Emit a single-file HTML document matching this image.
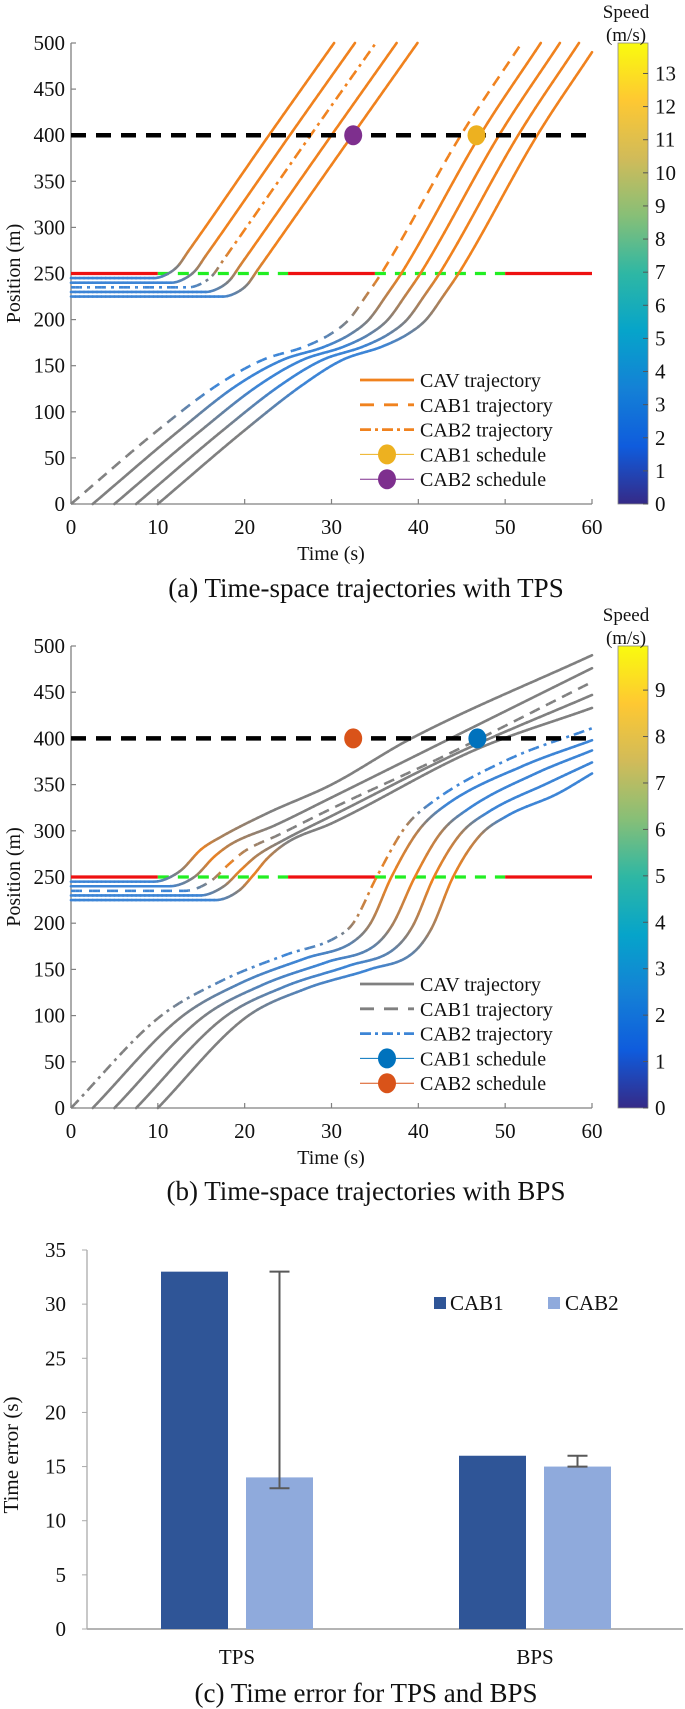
<!DOCTYPE html>
<html><head><meta charset="utf-8"><style>
html,body{margin:0;padding:0;background:#fff;}
svg{display:block;font-family:"Liberation Serif",serif;}
svg text{font-family:"Liberation Serif",serif;}
</style></head><body>
<svg id="fig" width="685" height="1709" viewBox="0 0 685 1709" xmlns="http://www.w3.org/2000/svg" font-family="Liberation Serif, serif">
<defs>
<linearGradient id="parula" x1="0" y1="1" x2="0" y2="0">
<stop offset="0" stop-color="#352A87"/><stop offset="0.125" stop-color="#0F5CDD"/><stop offset="0.25" stop-color="#1481D6"/><stop offset="0.375" stop-color="#06A4CA"/><stop offset="0.5" stop-color="#2EB7A4"/><stop offset="0.625" stop-color="#87BF77"/><stop offset="0.75" stop-color="#D1BB59"/><stop offset="0.875" stop-color="#FEC832"/><stop offset="1" stop-color="#F9FB0E"/>
</linearGradient>
</defs>
</svg>
<script>
// ---------- DATA: panel (a) TPS, points are [time s, position m, speed band 0=low 1=mid 2=high]
const tpsQueue1=[[0,245,0],[9.5,245,0],[11,249,0.5],[12.3,258,1],[13.5,274,1.7],[15,294,2],[22.8,400,2],[30.3,500,2]];
const tpsQueue2=[[0,240,0],[11.5,240,0],[13,244,0.5],[14.3,253,1],[15.5,269,1.7],[17,289,2],[25.2,400,2],[32.7,500,2]];
const tpsQueue3=[[0,235,0],[13.5,235,0],[15,239,0.5],[16.3,248,1],[17.5,264,1.7],[19,284,2],[27.6,400,2],[35.1,500,2]];
const tpsQueue4=[[0,230,0],[15.5,230,0],[17,234,0.5],[18.3,243,1],[19.5,259,1.7],[21,279,2],[30,400,2],[37.5,500,2]];
const tpsQueue5=[[0,225,0],[17.5,225,0],[19,229,0.5],[20.3,238,1],[21.5,254,1.7],[23,274,2],[32.4,400,2],[39.9,500,2]];
const tpsFlow1=[[0,0,1],[10,80,1],[16.7,128,0],[22,156,0],[27,171,0],[30,185,0.5],[32,200,1],[34,226,1.5],[36,254,2],[44.9,400,2],[51.9,500,2]];
const tpsFlow2=[[2.5,0,1],[12.5,80,1],[19,128,0],[24.3,156,0],[29.3,171,0],[32.3,185,0.5],[34.3,200,1],[36.3,226,1.5],[38.3,254,2],[47.1,400,2],[54.1,500,2]];
const tpsFlow3=[[5,0,1],[15,80,1],[21.5,128,0],[26.6,156,0],[31.5,171,0],[34.5,185,0.5],[36.5,200,1],[38.5,226,1.5],[40.5,254,2],[49.3,400,2],[56.3,500,2]];
const tpsFlow4=[[7.5,0,1],[17.5,80,1],[24,128,0],[28.9,156,0],[33.7,171,0],[36.7,185,0.5],[38.7,200,1],[40.7,226,1.5],[42.7,254,2],[51.5,400,2],[58.5,500,2]];
const tpsFlow5=[[10,0,1],[20,80,1],[26.5,128,0],[31.2,156,0],[35.9,171,0],[38.9,185,0.5],[40.9,200,1],[42.9,226,1.5],[44.9,254,2],[53.7,400,2],[60,490,2]];
const tpsStyles=['solid','solid','dashdot','solid','solid','dashed','solid','solid','solid','solid'];
const tpsSchedules=[[46.7,400],[32.5,400]]; // CAB1, CAB2
// ---------- DATA: panel (b) BPS
const bpsQueue1=[[0,245,0],[9.5,245,0],[12.5,256,1],[15,280,2],[17,292,1.4],[22.6,319,1],[30,350,1],[39.2,400,1],[60,490,1]];
const bpsQueue2=[[0,240,0],[11.3,240,0],[14.2,250,1],[16.5,272,2],[18.5,286,1.4],[23.5,306,1],[30,336,1],[40.5,385,1],[60,476,1]];
const bpsQueue3=[[0,235,0],[13,235,0],[16,245,1],[18.2,264,2],[20,278,1.4],[24,296,1],[30,324,1],[43,381,1],[60,461,1]];
const bpsQueue4=[[0,230,0],[14.8,230,0],[17.6,240,1],[19.6,258,2],[21.4,273,1.4],[24.5,290,1],[30,316,1],[44.7,385,1],[60,447,1]];
const bpsQueue5=[[0,225,0],[16.6,225,0],[19.3,235,1],[21,252,2],[22.6,270,1.6],[25,288,1],[30,308,1],[46.4,387,1],[60,433,1]];
const bpsFlow1=[[0,0,1],[10,97,1],[17.2,137,0.3],[24.8,166,0],[30.4,184,0.5],[32.5,200,1.3],[35.2,250,2],[38.5,304,1.5],[41.6,331,0],[50.3,377,0],[60,411,0]];
const bpsFlow2=[[2.5,0,1],[12.5,97,1],[19.5,135,0.3],[27,162,0],[32.5,180,0.5],[34.5,200,1.3],[36.9,250,2],[40,300,1.5],[43.2,328,0],[52,370,0],[60,398,0]];
const bpsFlow3=[[5,0,1],[15,97,1],[22,133,0.3],[29.5,158,0],[35,176,0.5],[37,198,1.3],[39.6,250,2],[42.6,298,1.5],[45.8,324,0],[53.5,362,0],[60,387,0]];
const bpsFlow4=[[7.5,0,1],[17.5,97,1],[24.5,131,0.3],[32,154,0],[37.2,172,0.5],[39.3,196,1.3],[41.8,250,2],[44.8,296,1.5],[48,320,0],[55,352,0],[60,374,0]];
const bpsFlow5=[[10,0,1],[20,97,1],[27,129,0.3],[34.4,150,0],[39.4,168,0.5],[41.5,194,1.3],[44,250,2],[47,294,1.5],[50.2,316,0],[56,340,0],[60,362,0]];
const bpsStyles=['solid','solid','dashed','solid','solid','dashdot','solid','solid','solid','solid'];
const bpsSchedules=[[46.8,400],[32.5,400]];
// ---------- DATA: signal segments at 250 m (start, end, state)
const signalStarts=[0,10,25,35,50];
const signalEnds=[10,25,35,50,60];
const signalStates=['red','green','red','green','red'];
const xTicks=[0,10,20,30,40,50,60];
const yTicks=[0,50,100,150,200,250,300,350,400,450,500];
const cbTicksA=[0,1,2,3,4,5,6,7,8,9,10,11,12,13];
const cbTicksB=[0,1,2,3,4,5,6,7,8,9];
// ---------- DATA: panel (c)
const barCategories=['TPS','BPS'];
const cab1Values=[33,16];
const cab2Values=[14,15];
const cab2ErrLow=[13,15];
const cab2ErrHigh=[33,16];
const barTicks=[0,5,10,15,20,25,30,35];

const NS='http://www.w3.org/2000/svg';
const svg=document.getElementById('fig');
const FONT='"Liberation Serif", serif';
function mk(tag,attrs,parent){const e=document.createElementNS(NS,tag);for(const k in attrs)e.setAttribute(k,attrs[k]);(parent||svg).appendChild(e);return e;}
function txt(s,attrs,parent){const e=mk('text',attrs,parent);e.setAttribute('style','font-family:'+FONT);e.textContent=s;return e;}

function monotone(xs,ys){
  const n=xs.length,d=[],m=new Array(n);
  for(let k=0;k<n-1;k++)d.push((ys[k+1]-ys[k])/(xs[k+1]-xs[k]));
  m[0]=d[0];m[n-1]=d[n-2];
  for(let k=1;k<n-1;k++)m[k]=(d[k-1]*d[k]<=0)?0:(d[k-1]+d[k])/2;
  for(let k=0;k<n-1;k++){
    if(d[k]===0){m[k]=0;m[k+1]=0;continue;}
    const a=m[k]/d[k],b=m[k+1]/d[k],s=a*a+b*b;
    if(s>9){const t=3/Math.sqrt(s);m[k]=t*a*d[k];m[k+1]=t*b*d[k];}
  }
  return function(x){
    let k=0;while(k<n-2&&x>xs[k+1])k++;
    const h=xs[k+1]-xs[k],t=(x-xs[k])/h,t2=t*t,t3=t2*t;
    return (2*t3-3*t2+1)*ys[k]+(t3-2*t2+t)*h*m[k]+(-2*t3+3*t2)*ys[k+1]+(t3-t2)*h*m[k+1];
  };
}
function lerp(a,b,t){return a+(b-a)*t;}
const BLUE=[61,133,214],GRAY=[128,128,128],ORANGE=[240,130,30];
function bandColor(b){
  let c;if(b<=1){c=BLUE.map((v,i)=>lerp(v,GRAY[i],Math.max(0,b)));}else{c=GRAY.map((v,i)=>lerp(v,ORANGE[i],Math.min(1,b-1)));}
  return 'rgb('+c.map(Math.round).join(',')+')';
}
const DASH={solid:null,dashed:'11 7',dashdot:'11 5 3 5'};

function drawPanel(p){
  const g=mk('g',{},svg);
  
  
  const X=t=>p.x0+t/60*(p.x1-p.x0), Y=v=>p.yb-v/500*(p.yb-p.yt);
  const ax=mk('g',{},g);
  
  
  mk('line',{x1:p.x0,y1:p.yt,x2:p.x0,y2:p.yb,stroke:'#808080','stroke-width':1.3},ax);
  mk('line',{x1:p.x0,y1:p.yb,x2:p.x1,y2:p.yb,stroke:'#808080','stroke-width':1.3},ax);
  yTicks.forEach(v=>{
    mk('line',{x1:p.x0,y1:Y(v),x2:p.x0+5,y2:Y(v),stroke:'#808080','stroke-width':1.2},ax);
    const t=txt(String(v),{x:p.x0-6,y:Y(v)+7,'text-anchor':'end','font-size':21,fill:'#111'},ax);
    
    
  });
  xTicks.forEach(v=>{
    mk('line',{x1:X(v),y1:p.yb,x2:X(v),y2:p.yb-5,stroke:'#808080','stroke-width':1.2},ax);
    if(p.showX){const t=txt(String(v),{x:X(v),y:p.yb+30,'text-anchor':'middle','font-size':21,fill:'#111'},ax);
    
    }
  });
  const yt=txt('Position (m)',{x:0,y:0,'text-anchor':'middle','font-size':20,fill:'#111',transform:`translate(20,${(p.yt+p.yb)/2}) rotate(-90)`},g);
  
  
  for(let i=0;i<signalStarts.length;i++){
    const green=signalStates[i]==='green';
    const l=mk('line',{x1:X(signalStarts[i]),y1:Y(250),x2:X(signalEnds[i]),y2:Y(250),stroke:green?'#22ee22':'#ee1111','stroke-width':3.2,'stroke-dasharray':green?'11 9':'none'},g);
    
    
  }
  p.trajs.forEach((tr,idx)=>{
    const tg=mk('g',{},g);
    
    
    const ts=tr.map(q=>q[0]),ps=tr.map(q=>q[1]),bs=tr.map(q=>q[2]);
    const f=monotone(ts,ps);
    const bandAt=t=>{let k=0;while(k<ts.length-2&&t>ts[k+1])k++;return lerp(bs[k],bs[k+1],Math.min(1,Math.max(0,(t-ts[k])/(ts[k+1]-ts[k]))));};
    const samples=[];
    const t0=ts[0],t1=ts[ts.length-1];
    for(let t=t0;t<t1;t+=0.1)samples.push([t,f(t)]);
    samples.push([t1,f(t1)]);
    const dash=DASH[p.styles[idx]];
    let L=0;const step=5;
    for(let i=0;i<samples.length-1;i+=step){
      const seg=samples.slice(i,Math.min(samples.length,i+step+1));
      const pts=seg.map(s=>[X(s[0]),Y(Math.min(500,s[1]))]);
      const mid=seg[Math.floor(seg.length/2)][0];
      const a={points:pts.map(q=>q[0].toFixed(2)+','+q[1].toFixed(2)).join(' '),fill:'none',stroke:bandColor(bandAt(mid)),'stroke-width':2.6,'stroke-linejoin':'round'};
      if(dash){a['stroke-dasharray']=dash;a['stroke-dashoffset']=L.toFixed(2);}else{a['stroke-linecap']='round';}
      mk('polyline',a,tg);
      for(let j=0;j<pts.length-1;j++)L+=Math.hypot(pts[j+1][0]-pts[j][0],pts[j+1][1]-pts[j][1]);
    }
  });
  const sl=mk('line',{x1:p.x0,y1:Y(400),x2:p.x1,y2:Y(400),stroke:'#000','stroke-width':4.5,'stroke-dasharray':'15 10'},g);
  
  
  p.sched.forEach((s,i)=>{
    const c=mk('ellipse',{cx:X(s[0]),cy:Y(s[1]),rx:9,ry:10,fill:p.schedColors[i]},g);
    
    
  });
  if(p.showX){const tl=txt('Time (s)',{x:331,y:p.yb+56,'text-anchor':'middle','font-size':20,fill:'#111'},g);
  
  }
  const lg=mk('g',{},g);
  
  
  const labels=['CAV trajectory','CAB1 trajectory','CAB2 trajectory','CAB1 schedule','CAB2 schedule'];
  labels.forEach((lab,i)=>{
    const y=p.legY+i*24.8;
    const e=mk('g',{},lg);
    
    
    const st=p.legStyles[i];
    if(i<3){mk('line',{x1:360,y1:y,x2:414,y2:y,stroke:st.c,'stroke-width':2.8,'stroke-dasharray':st.d||'none'},e);}
    else{mk('line',{x1:360,y1:y,x2:414,y2:y,stroke:st.c,'stroke-width':1},e);mk('ellipse',{cx:387,cy:y,rx:9,ry:10,fill:st.c},e);}
    txt(lab,{x:420,y:y+7,'font-size':20,fill:'#111'},e);
  });
  const cb=mk('g',{},g);
  
  
  mk('rect',{x:618,y:p.yt,width:30,height:p.yb-p.yt,fill:'url(#parula)',stroke:'#888','stroke-width':0.8},cb);
  p.cbTicks.forEach(v=>{
    const y=p.yb-v/p.cbMax*(p.yb-p.yt);
    mk('line',{x1:643,y1:y,x2:648,y2:y,stroke:'#555','stroke-width':1},cb);
    txt(String(v),{x:655,y:y+7,'font-size':21,fill:'#111'},cb);
  });
  txt('Speed',{x:626,y:p.yt-25,'text-anchor':'middle','font-size':19,fill:'#111'},cb);
  txt('(m/s)',{x:626,y:p.yt-2,'text-anchor':'middle','font-size':19,fill:'#111'},cb);
}

drawPanel({name:'panel-a-tps',x0:71,x1:592,yt:43,yb:504,showX:true,
  trajs:[tpsQueue1,tpsQueue2,tpsQueue3,tpsQueue4,tpsQueue5,tpsFlow1,tpsFlow2,tpsFlow3,tpsFlow4,tpsFlow5],styles:tpsStyles,
  sched:tpsSchedules,schedColors:['#EDB120','#7E2F8E'],legY:380,
  legStyles:[{c:'#f0821e'},{c:'#f0821e',d:'14 10'},{c:'#f0821e',d:'11 4 3 4'},{c:'#EDB120'},{c:'#7E2F8E'}],
  cbTicks:cbTicksA,cbMax:13.92});
drawPanel({name:'panel-b-bps',x0:71,x1:592,yt:646,yb:1108,showX:true,
  trajs:[bpsQueue1,bpsQueue2,bpsQueue3,bpsQueue4,bpsQueue5,bpsFlow1,bpsFlow2,bpsFlow3,bpsFlow4,bpsFlow5],styles:bpsStyles,
  sched:bpsSchedules,schedColors:['#0072BD','#D95319'],legY:984,
  legStyles:[{c:'#808080'},{c:'#808080',d:'14 10'},{c:'#3d85d6',d:'11 4 3 4'},{c:'#0072BD'},{c:'#D95319'}],
  cbTicks:cbTicksB,cbMax:9.95});

[['(a) Time-space trajectories with TPS',597,'caption-a'],['(b) Time-space trajectories with BPS',1200,'caption-b'],['(c) Time error for TPS and BPS',1702,'caption-c']].forEach(c=>{
  const t=txt(c[0],{x:366,y:c[1],'text-anchor':'middle','font-size':27,fill:'#111'});
  
  
});

(function(){
  const g=mk('g',{});
  
  
  const Y=v=>1629-v/35*(1629-1250);
  const groupCenters=[237,535];
  mk('line',{x1:87,y1:1250,x2:87,y2:1629,stroke:'#aaa','stroke-width':1.3},g);
  mk('line',{x1:87,y1:1629,x2:683,y2:1629,stroke:'#aaa','stroke-width':1.8},g);
  barTicks.forEach(v=>{
    mk('line',{x1:82,y1:Y(v),x2:87,y2:Y(v),stroke:'#aaa','stroke-width':1},g);
    const t=txt(String(v),{x:66,y:Y(v)+7,'text-anchor':'end','font-size':21,fill:'#111'},g);
    
    
  });
  barCategories.forEach((c,i)=>{
    const cx=groupCenters[i];
    const b1=mk('rect',{x:cx-76,y:Y(cab1Values[i]),width:67,height:Y(0)-Y(cab1Values[i]),fill:'#2F5597'},g);
    
    
    const b2=mk('rect',{x:cx+9,y:Y(cab2Values[i]),width:67,height:Y(0)-Y(cab2Values[i]),fill:'#8FAADC'},g);
    
    
    const ex=cx+42.5;
    const eb=mk('g',{stroke:'#595959','stroke-width':2},g);
    
    
    mk('line',{x1:ex,y1:Y(cab2ErrLow[i]),x2:ex,y2:Y(cab2ErrHigh[i])},eb);
    mk('line',{x1:ex-10,y1:Y(cab2ErrLow[i]),x2:ex+10,y2:Y(cab2ErrLow[i])},eb);
    mk('line',{x1:ex-10,y1:Y(cab2ErrHigh[i]),x2:ex+10,y2:Y(cab2ErrHigh[i])},eb);
    const t=txt(c,{x:cx,y:1664,'text-anchor':'middle','font-size':21,fill:'#111'},g);
    
    
  });
  const yt=txt('Time error  (s)',{x:0,y:0,'text-anchor':'middle','font-size':21,fill:'#111',transform:'translate(18,1455) rotate(-90)'},g);
  
  
  const lg=mk('g',{},g);
  
  
  mk('rect',{x:434,y:1297,width:12,height:12,fill:'#2F5597'},lg);
  txt('CAB1',{x:450,y:1310,'font-size':21,fill:'#111'},lg);
  mk('rect',{x:548,y:1297,width:12,height:12,fill:'#8FAADC'},lg);
  txt('CAB2',{x:565,y:1310,'font-size':21,fill:'#111'},lg);
})();
</script>
</body></html>
